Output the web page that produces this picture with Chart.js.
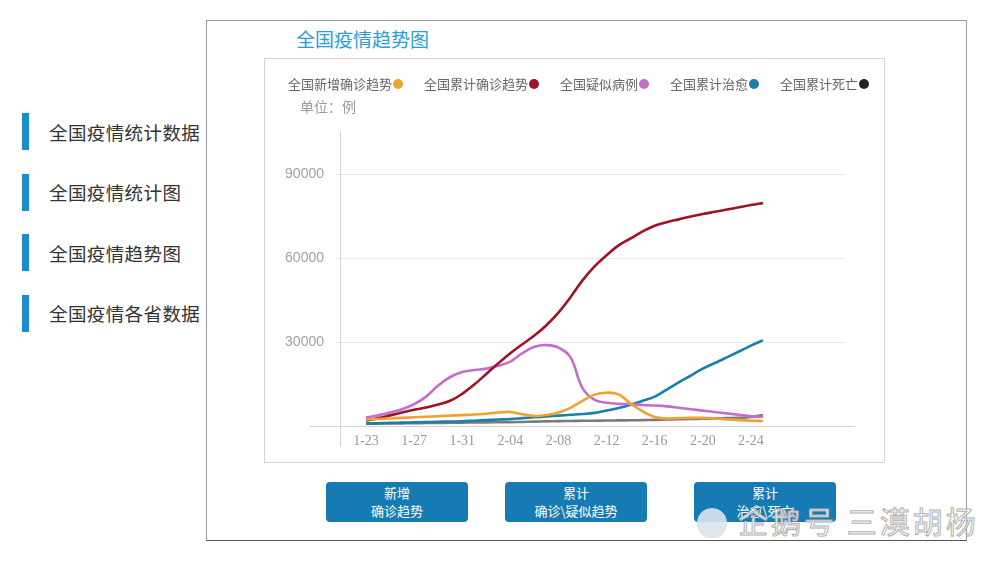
<!DOCTYPE html>
<html>
<head>
<meta charset="utf-8">
<script src="https://cdn.jsdelivr.net/npm/chart.js@4/dist/chart.umd.min.js"></script>
<style>
  body { margin: 0; width: 1000px; height: 562px; background: #fff; position: relative; overflow: hidden;
         font-family: "Noto Sans CJK SC", "Noto Sans", sans-serif; }
  .abs { position: absolute; }
  .menu-bar { position: absolute; left: 22px; width: 7px; height: 37px; background: #1a8dcc; }
  .menu-text { position: absolute; left: 49px; font-size: 18.5px; color: #333; line-height: 24px; letter-spacing: 0.4px; }
  #panel { left: 206px; top: 20px; width: 759px; height: 519px; border: 1px solid #999; border-bottom-color: #555; }
  #title { left: 296px; top: 26px; font-size: 19px; color: #2a9ed6; line-height: 26px; }
  #box { left: 264px; top: 58px; width: 619px; height: 403px; border: 1px solid #d4d4d4; }
  #legend { left: 288px; top: 76px; display: flex; font-size: 13px; color: #666; line-height: 16px; white-space: nowrap; }
  #legend .item { display: flex; align-items: center; margin-right: 21px; }
  #legend .dot { width: 10px; height: 10px; border-radius: 50%; margin-left: 1px; }
  #unit { left: 300px; top: 97px; font-size: 14px; color: #999; line-height: 18px; }
  .btn { position: absolute; top: 482px; height: 40px; width: 142px; background: #177bb3; border-radius: 4px;
         color: #fff; font-size: 13px; line-height: 18px; text-align: center; display: flex; flex-direction: column;
         justify-content: center; }
  #mark { left: 738px; top: 502px; font-size: 30px; line-height: 36px; color: rgba(255,255,255,0.85);
          -webkit-text-stroke: 1px #b0b0b0; letter-spacing: 3px; white-space: nowrap; }
  #peng { left: 697px; top: 508px; width: 30px; height: 30px; border-radius: 50% 50% 45% 45%; background: rgba(220,228,236,0.9); }
</style>
</head>
<body>
<div class="menu-bar" style="top:113px"></div><div class="menu-text" style="top:120px">全国疫情统计数据</div>
<div class="menu-bar" style="top:174px"></div><div class="menu-text" style="top:180px">全国疫情统计图</div>
<div class="menu-bar" style="top:234px"></div><div class="menu-text" style="top:241px">全国疫情趋势图</div>
<div class="menu-bar" style="top:295px"></div><div class="menu-text" style="top:301px">全国疫情各省数据</div>

<div id="panel" class="abs"></div>
<div id="title" class="abs">全国疫情趋势图</div>
<div id="box" class="abs"><canvas id="c" width="619" height="403"></canvas></div>
<div id="legend" class="abs"></div>
<div id="unit" class="abs">单位：例</div>

<div class="btn" style="left:326px"><span>新增</span><span>确诊趋势</span></div>
<div class="btn" style="left:505px"><span>累计</span><span>确诊\疑似趋势</span></div>
<div class="btn" style="left:694px"><span>累计</span><span>治愈\死亡</span></div>

<div id="peng" class="abs"></div>
<div id="mark" class="abs">企鹅号 三漠胡杨</div>

<script>
// dates 1-23 .. 2-25
const dates = ['1-23','1-24','1-25','1-26','1-27','1-28','1-29','1-30','1-31',
  '2-01','2-02','2-03','2-04','2-05','2-06','2-07','2-08','2-09','2-10','2-11','2-12',
  '2-13','2-14','2-15','2-16','2-17','2-18','2-19','2-20','2-21','2-22','2-23','2-24','2-25'];
const xTickLabels = ['1-23','1-27','1-31','2-04','2-08','2-12','2-16','2-20','2-24'];
const yTicks = [0, 30000, 60000, 90000];

const seriesNames = ['全国新增确诊趋势','全国累计确诊趋势','全国疑似病例','全国累计治愈','全国累计死亡'];
const lineColors = ['#f0a22e','#9e1328','#c56ccf','#1a7fa9','#7a7a7a'];
const dotColors = ['#f0a22e','#9e1328','#c56ccf','#1a7fa9','#222222'];

const newConfirmed = [2300,2500,2700,2900,3100,3300,3500,3700,3900,4100,4400,4800,5000,4200,3600,3900,4800,
  6500,9000,11200,11900,11300,8000,5200,3200,2700,2800,2900,2900,2700,2400,2100,1900,1800];
const totalConfirmed = [2000,2800,3800,4800,5800,6600,7700,9000,11500,14800,18600,22400,26000,29200,32300,36000,
  40500,46000,52000,57000,61000,64500,67000,69500,71500,72800,73800,74800,75700,76500,77300,78100,78900,79600];
const suspected = [3000,3800,4800,6000,7800,10500,14500,17500,19300,20000,20500,21500,23000,26000,28300,28900,
  28000,24500,13500,9300,8300,7900,7800,7500,7300,7000,6500,6000,5500,5000,4500,4000,3500,3300];
const cured = [900,1000,1100,1200,1300,1400,1500,1600,1700,1900,2100,2300,2500,2800,3100,3400,3700,4000,4300,
  4700,5500,6400,7600,9000,10500,13000,15600,18000,20500,22500,24500,26600,28700,30600];
const deaths = [800,850,900,950,1000,1050,1100,1150,1200,1250,1300,1350,1400,1450,1550,1650,1750,1800,1850,
  1900,1950,2000,2050,2100,2200,2300,2400,2500,2600,2700,2800,2900,3200,3900];

const allSeries = [newConfirmed, totalConfirmed, suspected, cured, deaths];

// html legend: text followed by dot
const legend = document.getElementById('legend');
seriesNames.forEach((name, i) => {
  const item = document.createElement('div');
  item.className = 'item';
  item.innerHTML = '<span>' + name + '</span><span class="dot" style="background:' + dotColors[i] + '"></span>';
  legend.appendChild(item);
});

// baseline running past the plot and y axis line down into the labels
const axisLines = {
  id: 'axisLines',
  beforeDatasetsDraw(chart) {
    const { ctx, chartArea, scales } = chart;
    const y0 = Math.round(scales.y.getPixelForValue(0)) + 0.5;
    const x0 = Math.round(chartArea.left) + 0.5;
    ctx.save();
    ctx.strokeStyle = '#d2d2d2';
    ctx.lineWidth = 1;
    ctx.beginPath();
    ctx.moveTo(chartArea.left - 30, y0);
    ctx.lineTo(chartArea.right + 10, y0);
    ctx.moveTo(x0, chartArea.top);
    ctx.lineTo(x0, chartArea.bottom + 21);
    ctx.stroke();
    ctx.restore();
  }
};

new Chart(document.getElementById('c'), {
  type: 'line',
  data: {
    datasets: allSeries.map((vals, i) => ({
      label: seriesNames[i],
      data: vals.map((v, j) => ({ x: j, y: v })),
      borderColor: lineColors[i],
      backgroundColor: lineColors[i],
      borderWidth: 2.6,
      pointRadius: 0,
      tension: 0.4,
      fill: false
    }))
  },
  options: {
    responsive: false,
    animation: false,
    devicePixelRatio: 1,
    layout: { padding: { top: 73, right: 39, left: 0, bottom: 0 } },
    plugins: { legend: { display: false }, tooltip: { enabled: false } },
    scales: {
      x: {
        type: 'linear',
        min: -2.16,
        max: 39.82,
        afterBuildTicks: (s) => { s.ticks = xTickLabels.map(l => ({ value: dates.indexOf(l) })); },
        afterFit: (s) => { s.height = 36; },
        grid: { display: false, drawTicks: false },
        border: { display: false },
        ticks: {
          padding: 7,
          color: '#999',
          font: { family: 'Liberation Serif', size: 14 },
          maxRotation: 0,
          autoSkip: false,
          callback: (v) => dates[v]
        }
      },
      y: {
        min: 0,
        max: 105000,
        afterBuildTicks: (s) => { s.ticks = yTicks.map(v => ({ value: v })); },
        afterFit: (s) => { s.width = 75; },
        grid: {
          color: (c) => (c.tick && c.tick.value === 0) ? 'rgba(0,0,0,0)' : '#e8e8e8',
          tickColor: (c) => (c.tick && c.tick.value === 0) ? 'rgba(0,0,0,0)' : '#e8e8e8',
          tickLength: 4
        },
        border: { display: false },
        ticks: {
          padding: 12,
          color: '#a0a0a0',
          font: { family: 'Liberation Sans', size: 14 },
          callback: (v) => v === 0 ? '' : v
        }
      }
    }
  },
  plugins: [axisLines]
});
</script>
</body>
</html>
